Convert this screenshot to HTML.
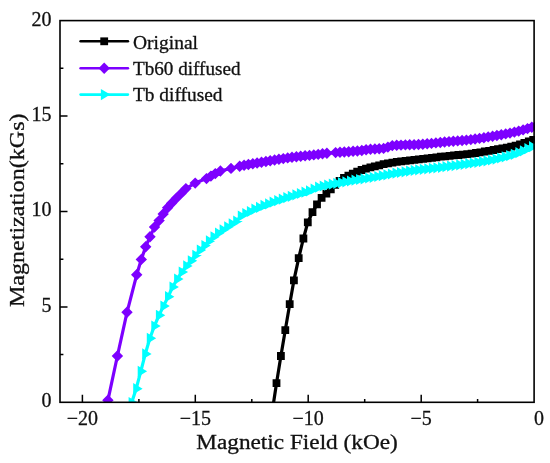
<!DOCTYPE html>
<html lang="en"><head><meta charset="utf-8"><title>Demagnetization curves</title>
<style>html,body{margin:0;padding:0;background:#fff}svg{display:block}text{stroke:#111;stroke-width:.3px}</style></head>
<body>
<svg width="550" height="463" viewBox="0 0 550 463" font-family="'Liberation Serif', 'DejaVu Serif', serif" fill="#111">
<rect width="550" height="463" fill="#fff"/>
<defs><clipPath id="c"><rect x="60.0" y="20.6" width="474.90000000000003" height="382.3"/></clipPath></defs>
<g clip-path="url(#c)">
<polyline fill="none" stroke="#000" stroke-width="3.2" stroke-linejoin="round" points="273.6,402.5 276.5,383.2 280.9,356.0 285.3,330.1 289.7,304.2 293.9,280.4 298.7,258.1 303.4,238.5 307.8,222.3 312.5,212.2 317.0,204.4 321.6,197.9 326.4,193.7 330.8,189.3 335.2,184.8 339.6,180.9 344.0,178.0 348.4,175.7 352.8,173.6 357.2,171.7 361.6,170.0 366.0,168.6 370.4,167.4 374.8,166.3 379.2,165.3 383.6,164.2 388.0,163.3 392.4,162.6 396.8,161.9 401.2,161.3 405.6,160.8 410.0,160.3 414.4,159.8 418.8,159.3 423.2,158.8 427.6,158.3 432.0,157.8 436.4,157.3 440.8,156.7 445.2,156.3 449.6,155.8 454.0,155.4 458.4,155.0 462.8,154.6 467.2,154.1 471.6,153.6 476.0,153.0 480.4,152.3 484.8,151.5 489.2,150.8 493.6,150.0 498.0,149.2 502.4,148.4 506.8,147.6 511.2,146.7 515.6,145.6 520.0,144.4 524.4,142.9 528.8,141.4 533.2,139.9"/>
<path fill="#000" d="M272.6 379.3h7.8v7.8h-7.8zM277.0 352.1h7.8v7.8h-7.8zM281.4 326.2h7.8v7.8h-7.8zM285.8 300.3h7.8v7.8h-7.8zM290.0 276.5h7.8v7.8h-7.8zM294.8 254.2h7.8v7.8h-7.8zM299.5 234.6h7.8v7.8h-7.8zM303.9 218.4h7.8v7.8h-7.8zM308.6 208.3h7.8v7.8h-7.8zM313.1 200.5h7.8v7.8h-7.8zM317.7 194.0h7.8v7.8h-7.8zM322.5 189.8h7.8v7.8h-7.8zM326.9 185.4h7.8v7.8h-7.8zM331.3 180.9h7.8v7.8h-7.8zM335.7 177.0h7.8v7.8h-7.8zM340.1 174.1h7.8v7.8h-7.8zM344.5 171.8h7.8v7.8h-7.8zM348.9 169.7h7.8v7.8h-7.8zM353.3 167.8h7.8v7.8h-7.8zM357.7 166.1h7.8v7.8h-7.8zM362.1 164.7h7.8v7.8h-7.8zM366.5 163.5h7.8v7.8h-7.8zM370.9 162.4h7.8v7.8h-7.8zM375.3 161.4h7.8v7.8h-7.8zM379.7 160.3h7.8v7.8h-7.8zM384.1 159.4h7.8v7.8h-7.8zM388.5 158.7h7.8v7.8h-7.8zM392.9 158.0h7.8v7.8h-7.8zM397.3 157.4h7.8v7.8h-7.8zM401.7 156.9h7.8v7.8h-7.8zM406.1 156.4h7.8v7.8h-7.8zM410.5 155.9h7.8v7.8h-7.8zM414.9 155.4h7.8v7.8h-7.8zM419.3 154.9h7.8v7.8h-7.8zM423.7 154.4h7.8v7.8h-7.8zM428.1 153.9h7.8v7.8h-7.8zM432.5 153.4h7.8v7.8h-7.8zM436.9 152.8h7.8v7.8h-7.8zM441.3 152.4h7.8v7.8h-7.8zM445.7 151.9h7.8v7.8h-7.8zM450.1 151.5h7.8v7.8h-7.8zM454.5 151.1h7.8v7.8h-7.8zM458.9 150.7h7.8v7.8h-7.8zM463.3 150.2h7.8v7.8h-7.8zM467.7 149.7h7.8v7.8h-7.8zM472.1 149.1h7.8v7.8h-7.8zM476.5 148.4h7.8v7.8h-7.8zM480.9 147.6h7.8v7.8h-7.8zM485.3 146.9h7.8v7.8h-7.8zM489.7 146.1h7.8v7.8h-7.8zM494.1 145.3h7.8v7.8h-7.8zM498.5 144.5h7.8v7.8h-7.8zM502.9 143.7h7.8v7.8h-7.8zM507.3 142.8h7.8v7.8h-7.8zM511.7 141.7h7.8v7.8h-7.8zM516.1 140.5h7.8v7.8h-7.8zM520.5 139.0h7.8v7.8h-7.8zM524.9 137.5h7.8v7.8h-7.8zM529.3 136.0h7.8v7.8h-7.8z"/>

<polyline fill="none" stroke="#7d00ff" stroke-width="3.2" stroke-linejoin="round" points="107.9,400.3 117.4,356.0 127.0,312.3 136.7,274.8 141.3,259.4 145.7,246.7 150.0,236.8 154.5,227.1 159.1,220.6 163.2,213.9 167.6,207.7 171.6,203.2 176.3,198.2 181.2,193.4 185.9,188.6 195.2,183.1 206.5,178.6 210.9,176.1 215.3,173.6 220.4,171.0 231.0,168.4 239.7,166.2 244.1,165.3 248.4,164.5 252.8,163.7 257.1,163.0 261.5,162.2 265.9,161.5 270.2,160.7 274.6,160.0 278.9,159.3 283.3,158.6 287.7,157.9 292.0,157.3 296.4,156.7 300.7,156.2 305.1,155.8 309.5,155.4 313.8,154.9 318.2,154.4 322.5,153.8 326.9,153.3 335.6,152.6 340.0,152.3 344.3,152.0 348.7,151.7 353.1,151.3 357.4,151.0 361.8,150.5 366.1,149.8 370.5,149.3 374.9,149.0 379.2,148.7 383.6,148.4 387.9,147.1 392.3,145.6 396.7,145.3 401.0,145.1 405.4,144.9 409.7,144.8 414.1,144.7 418.5,144.5 422.8,144.2 427.2,143.8 431.5,143.4 435.9,142.9 440.3,142.5 444.6,142.0 449.0,141.6 453.3,141.3 457.7,140.9 462.1,140.5 466.4,140.1 470.8,139.6 475.1,139.0 479.5,138.4 483.9,137.7 488.2,136.9 492.6,136.2 496.9,135.5 501.3,134.7 505.7,133.9 510.0,133.1 514.4,132.1 518.7,131.1 523.1,129.9 527.5,128.6 531.8,127.2 536.2,125.8"/>
<path fill="#7d00ff" d="M107.9 394.6l5.7 5.7l-5.7 5.7l-5.7 -5.7zM117.4 350.3l5.7 5.7l-5.7 5.7l-5.7 -5.7zM127.0 306.6l5.7 5.7l-5.7 5.7l-5.7 -5.7zM136.7 269.1l5.7 5.7l-5.7 5.7l-5.7 -5.7zM141.3 253.7l5.7 5.7l-5.7 5.7l-5.7 -5.7zM145.7 241.0l5.7 5.7l-5.7 5.7l-5.7 -5.7zM150.0 231.1l5.7 5.7l-5.7 5.7l-5.7 -5.7zM154.5 221.4l5.7 5.7l-5.7 5.7l-5.7 -5.7zM159.1 214.9l5.7 5.7l-5.7 5.7l-5.7 -5.7zM163.2 208.2l5.7 5.7l-5.7 5.7l-5.7 -5.7zM167.6 202.0l5.7 5.7l-5.7 5.7l-5.7 -5.7zM171.6 197.5l5.7 5.7l-5.7 5.7l-5.7 -5.7zM176.3 192.5l5.7 5.7l-5.7 5.7l-5.7 -5.7zM181.2 187.7l5.7 5.7l-5.7 5.7l-5.7 -5.7zM185.9 182.9l5.7 5.7l-5.7 5.7l-5.7 -5.7zM195.2 177.4l5.7 5.7l-5.7 5.7l-5.7 -5.7zM206.5 172.9l5.7 5.7l-5.7 5.7l-5.7 -5.7zM210.9 170.4l5.7 5.7l-5.7 5.7l-5.7 -5.7zM215.3 167.9l5.7 5.7l-5.7 5.7l-5.7 -5.7zM220.4 165.3l5.7 5.7l-5.7 5.7l-5.7 -5.7zM231.0 162.7l5.7 5.7l-5.7 5.7l-5.7 -5.7zM239.7 160.5l5.7 5.7l-5.7 5.7l-5.7 -5.7zM244.1 159.6l5.7 5.7l-5.7 5.7l-5.7 -5.7zM248.4 158.8l5.7 5.7l-5.7 5.7l-5.7 -5.7zM252.8 158.0l5.7 5.7l-5.7 5.7l-5.7 -5.7zM257.1 157.3l5.7 5.7l-5.7 5.7l-5.7 -5.7zM261.5 156.5l5.7 5.7l-5.7 5.7l-5.7 -5.7zM265.9 155.8l5.7 5.7l-5.7 5.7l-5.7 -5.7zM270.2 155.0l5.7 5.7l-5.7 5.7l-5.7 -5.7zM274.6 154.3l5.7 5.7l-5.7 5.7l-5.7 -5.7zM278.9 153.6l5.7 5.7l-5.7 5.7l-5.7 -5.7zM283.3 152.9l5.7 5.7l-5.7 5.7l-5.7 -5.7zM287.7 152.2l5.7 5.7l-5.7 5.7l-5.7 -5.7zM292.0 151.6l5.7 5.7l-5.7 5.7l-5.7 -5.7zM296.4 151.0l5.7 5.7l-5.7 5.7l-5.7 -5.7zM300.7 150.5l5.7 5.7l-5.7 5.7l-5.7 -5.7zM305.1 150.1l5.7 5.7l-5.7 5.7l-5.7 -5.7zM309.5 149.7l5.7 5.7l-5.7 5.7l-5.7 -5.7zM313.8 149.2l5.7 5.7l-5.7 5.7l-5.7 -5.7zM318.2 148.7l5.7 5.7l-5.7 5.7l-5.7 -5.7zM322.5 148.1l5.7 5.7l-5.7 5.7l-5.7 -5.7zM326.9 147.6l5.7 5.7l-5.7 5.7l-5.7 -5.7zM335.6 146.9l5.7 5.7l-5.7 5.7l-5.7 -5.7zM340.0 146.6l5.7 5.7l-5.7 5.7l-5.7 -5.7zM344.3 146.3l5.7 5.7l-5.7 5.7l-5.7 -5.7zM348.7 146.0l5.7 5.7l-5.7 5.7l-5.7 -5.7zM353.1 145.6l5.7 5.7l-5.7 5.7l-5.7 -5.7zM357.4 145.3l5.7 5.7l-5.7 5.7l-5.7 -5.7zM361.8 144.8l5.7 5.7l-5.7 5.7l-5.7 -5.7zM366.1 144.1l5.7 5.7l-5.7 5.7l-5.7 -5.7zM370.5 143.6l5.7 5.7l-5.7 5.7l-5.7 -5.7zM374.9 143.3l5.7 5.7l-5.7 5.7l-5.7 -5.7zM379.2 143.0l5.7 5.7l-5.7 5.7l-5.7 -5.7zM383.6 142.7l5.7 5.7l-5.7 5.7l-5.7 -5.7zM387.9 141.4l5.7 5.7l-5.7 5.7l-5.7 -5.7zM392.3 139.9l5.7 5.7l-5.7 5.7l-5.7 -5.7zM396.7 139.6l5.7 5.7l-5.7 5.7l-5.7 -5.7zM401.0 139.4l5.7 5.7l-5.7 5.7l-5.7 -5.7zM405.4 139.2l5.7 5.7l-5.7 5.7l-5.7 -5.7zM409.7 139.1l5.7 5.7l-5.7 5.7l-5.7 -5.7zM414.1 139.0l5.7 5.7l-5.7 5.7l-5.7 -5.7zM418.5 138.8l5.7 5.7l-5.7 5.7l-5.7 -5.7zM422.8 138.5l5.7 5.7l-5.7 5.7l-5.7 -5.7zM427.2 138.1l5.7 5.7l-5.7 5.7l-5.7 -5.7zM431.5 137.7l5.7 5.7l-5.7 5.7l-5.7 -5.7zM435.9 137.2l5.7 5.7l-5.7 5.7l-5.7 -5.7zM440.3 136.8l5.7 5.7l-5.7 5.7l-5.7 -5.7zM444.6 136.3l5.7 5.7l-5.7 5.7l-5.7 -5.7zM449.0 135.9l5.7 5.7l-5.7 5.7l-5.7 -5.7zM453.3 135.6l5.7 5.7l-5.7 5.7l-5.7 -5.7zM457.7 135.2l5.7 5.7l-5.7 5.7l-5.7 -5.7zM462.1 134.8l5.7 5.7l-5.7 5.7l-5.7 -5.7zM466.4 134.4l5.7 5.7l-5.7 5.7l-5.7 -5.7zM470.8 133.9l5.7 5.7l-5.7 5.7l-5.7 -5.7zM475.1 133.3l5.7 5.7l-5.7 5.7l-5.7 -5.7zM479.5 132.7l5.7 5.7l-5.7 5.7l-5.7 -5.7zM483.9 132.0l5.7 5.7l-5.7 5.7l-5.7 -5.7zM488.2 131.2l5.7 5.7l-5.7 5.7l-5.7 -5.7zM492.6 130.5l5.7 5.7l-5.7 5.7l-5.7 -5.7zM496.9 129.8l5.7 5.7l-5.7 5.7l-5.7 -5.7zM501.3 129.0l5.7 5.7l-5.7 5.7l-5.7 -5.7zM505.7 128.2l5.7 5.7l-5.7 5.7l-5.7 -5.7zM510.0 127.4l5.7 5.7l-5.7 5.7l-5.7 -5.7zM514.4 126.4l5.7 5.7l-5.7 5.7l-5.7 -5.7zM518.7 125.4l5.7 5.7l-5.7 5.7l-5.7 -5.7zM523.1 124.2l5.7 5.7l-5.7 5.7l-5.7 -5.7zM527.5 122.9l5.7 5.7l-5.7 5.7l-5.7 -5.7zM531.8 121.5l5.7 5.7l-5.7 5.7l-5.7 -5.7zM536.2 120.1l5.7 5.7l-5.7 5.7l-5.7 -5.7z"/>

<polyline fill="none" stroke="#00ffff" stroke-width="3.2" stroke-linejoin="round" points="131.7,402.5 136.2,388.7 140.8,371.3 145.3,353.9 149.9,338.3 154.4,326.0 159.0,315.3 163.5,306.1 168.1,296.7 172.6,287.0 177.2,279.1 181.8,272.0 186.3,265.9 190.8,260.8 195.4,255.3 199.9,250.1 204.5,245.6 209.0,240.9 213.6,236.8 218.1,233.2 222.7,229.9 227.2,226.9 231.8,223.9 236.3,221.2 240.9,216.1 245.4,213.5 250.0,211.5 254.5,209.1 259.1,207.4 263.6,205.4 268.2,203.9 272.8,202.2 277.3,200.6 281.9,199.2 286.4,197.6 290.9,196.3 295.5,194.8 300.0,193.5 304.6,192.2 309.1,190.9 313.7,189.0 318.2,187.2 322.8,186.0 327.4,185.1 331.9,184.2 336.4,183.4 341.0,182.6 345.5,181.8 350.1,181.0 354.6,180.2 359.2,179.5 363.8,178.8 368.3,178.0 372.8,177.3 377.4,176.5 381.9,175.7 386.5,174.8 391.0,174.0 395.6,173.2 400.1,172.5 404.7,171.8 409.2,171.1 413.8,170.4 418.3,169.8 422.9,169.3 427.4,168.8 432.0,168.3 436.5,167.8 441.1,167.3 445.6,166.7 450.2,166.1 454.8,165.6 459.3,164.9 463.8,164.3 468.4,163.7 472.9,163.0 477.5,162.3 482.0,161.6 486.6,160.9 491.1,160.0 495.7,159.1 500.2,158.0 504.8,156.9 509.3,155.6 513.9,154.3 518.5,152.7 523.0,150.8 527.5,148.7 532.1,146.7"/>
<path fill="#00ffff" d="M128.6 396.9l9.4 5.6l-9.4 5.6zM133.2 383.1l9.4 5.6l-9.4 5.6zM137.7 365.7l9.4 5.6l-9.4 5.6zM142.2 348.3l9.4 5.6l-9.4 5.6zM146.8 332.7l9.4 5.6l-9.4 5.6zM151.3 320.4l9.4 5.6l-9.4 5.6zM155.9 309.7l9.4 5.6l-9.4 5.6zM160.4 300.5l9.4 5.6l-9.4 5.6zM165.0 291.1l9.4 5.6l-9.4 5.6zM169.5 281.4l9.4 5.6l-9.4 5.6zM174.1 273.5l9.4 5.6l-9.4 5.6zM178.7 266.4l9.4 5.6l-9.4 5.6zM183.2 260.3l9.4 5.6l-9.4 5.6zM187.8 255.2l9.4 5.6l-9.4 5.6zM192.3 249.7l9.4 5.6l-9.4 5.6zM196.8 244.5l9.4 5.6l-9.4 5.6zM201.4 240.0l9.4 5.6l-9.4 5.6zM205.9 235.3l9.4 5.6l-9.4 5.6zM210.5 231.2l9.4 5.6l-9.4 5.6zM215.0 227.6l9.4 5.6l-9.4 5.6zM219.6 224.3l9.4 5.6l-9.4 5.6zM224.2 221.3l9.4 5.6l-9.4 5.6zM228.7 218.3l9.4 5.6l-9.4 5.6zM233.2 215.6l9.4 5.6l-9.4 5.6zM237.8 210.5l9.4 5.6l-9.4 5.6zM242.3 207.9l9.4 5.6l-9.4 5.6zM246.9 205.9l9.4 5.6l-9.4 5.6zM251.4 203.5l9.4 5.6l-9.4 5.6zM256.0 201.8l9.4 5.6l-9.4 5.6zM260.5 199.8l9.4 5.6l-9.4 5.6zM265.1 198.3l9.4 5.6l-9.4 5.6zM269.6 196.6l9.4 5.6l-9.4 5.6zM274.2 195.0l9.4 5.6l-9.4 5.6zM278.8 193.6l9.4 5.6l-9.4 5.6zM283.3 192.0l9.4 5.6l-9.4 5.6zM287.8 190.7l9.4 5.6l-9.4 5.6zM292.4 189.2l9.4 5.6l-9.4 5.6zM296.9 187.9l9.4 5.6l-9.4 5.6zM301.5 186.6l9.4 5.6l-9.4 5.6zM306.0 185.3l9.4 5.6l-9.4 5.6zM310.6 183.4l9.4 5.6l-9.4 5.6zM315.1 181.6l9.4 5.6l-9.4 5.6zM319.7 180.4l9.4 5.6l-9.4 5.6zM324.2 179.5l9.4 5.6l-9.4 5.6zM328.8 178.6l9.4 5.6l-9.4 5.6zM333.3 177.8l9.4 5.6l-9.4 5.6zM337.9 177.0l9.4 5.6l-9.4 5.6zM342.4 176.2l9.4 5.6l-9.4 5.6zM347.0 175.4l9.4 5.6l-9.4 5.6zM351.5 174.6l9.4 5.6l-9.4 5.6zM356.1 173.9l9.4 5.6l-9.4 5.6zM360.6 173.2l9.4 5.6l-9.4 5.6zM365.2 172.4l9.4 5.6l-9.4 5.6zM369.7 171.7l9.4 5.6l-9.4 5.6zM374.3 170.9l9.4 5.6l-9.4 5.6zM378.8 170.1l9.4 5.6l-9.4 5.6zM383.4 169.2l9.4 5.6l-9.4 5.6zM387.9 168.4l9.4 5.6l-9.4 5.6zM392.5 167.6l9.4 5.6l-9.4 5.6zM397.0 166.9l9.4 5.6l-9.4 5.6zM401.6 166.2l9.4 5.6l-9.4 5.6zM406.1 165.5l9.4 5.6l-9.4 5.6zM410.7 164.8l9.4 5.6l-9.4 5.6zM415.2 164.2l9.4 5.6l-9.4 5.6zM419.8 163.7l9.4 5.6l-9.4 5.6zM424.3 163.2l9.4 5.6l-9.4 5.6zM428.9 162.7l9.4 5.6l-9.4 5.6zM433.4 162.2l9.4 5.6l-9.4 5.6zM438.0 161.7l9.4 5.6l-9.4 5.6zM442.5 161.1l9.4 5.6l-9.4 5.6zM447.1 160.5l9.4 5.6l-9.4 5.6zM451.6 160.0l9.4 5.6l-9.4 5.6zM456.2 159.3l9.4 5.6l-9.4 5.6zM460.7 158.7l9.4 5.6l-9.4 5.6zM465.3 158.1l9.4 5.6l-9.4 5.6zM469.8 157.4l9.4 5.6l-9.4 5.6zM474.4 156.7l9.4 5.6l-9.4 5.6zM478.9 156.0l9.4 5.6l-9.4 5.6zM483.5 155.3l9.4 5.6l-9.4 5.6zM488.0 154.4l9.4 5.6l-9.4 5.6zM492.6 153.5l9.4 5.6l-9.4 5.6zM497.1 152.4l9.4 5.6l-9.4 5.6zM501.7 151.3l9.4 5.6l-9.4 5.6zM506.2 150.0l9.4 5.6l-9.4 5.6zM510.8 148.7l9.4 5.6l-9.4 5.6zM515.4 147.1l9.4 5.6l-9.4 5.6zM519.9 145.2l9.4 5.6l-9.4 5.6zM524.4 143.1l9.4 5.6l-9.4 5.6zM529.0 141.1l9.4 5.6l-9.4 5.6z"/>

</g>
<rect x="60.0" y="20.6" width="474.1" height="381.7" fill="none" stroke="#000" stroke-width="1.6"/>
<path d="M82.4 402.3v-7.5M138.9 402.3v-3.4M195.3 402.3v-7.5M251.8 402.3v-3.4M308.2 402.3v-7.5M364.7 402.3v-3.4M421.2 402.3v-7.5M477.6 402.3v-3.4M60.0 354.6h3.4M60.0 306.9h7.5M60.0 259.2h3.4M60.0 211.5h7.5M60.0 163.7h3.4M60.0 116.0h7.5M60.0 68.3h3.4" stroke="#000" stroke-width="1.5" fill="none"/>
<g font-size="20px">
<text x="51.5" y="407.2" text-anchor="end">0</text>
<text x="51.5" y="311.8" text-anchor="end">5</text>
<text x="51.5" y="216.4" text-anchor="end">10</text>
<text x="51.5" y="120.9" text-anchor="end">15</text>
<text x="51.5" y="25.5" text-anchor="end">20</text>
<text x="82.4" y="425.2" text-anchor="middle">−20</text>
<text x="195.3" y="425.2" text-anchor="middle">−15</text>
<text x="308.2" y="425.2" text-anchor="middle">−10</text>
<text x="421.2" y="425.2" text-anchor="middle">−5</text>
<text x="539.0" y="425.2" text-anchor="middle">0</text>
</g>
<text x="196.3" y="448.5" font-size="20.5px" textLength="201.5" lengthAdjust="spacingAndGlyphs">Magnetic Field (kOe)</text>
<text transform="translate(23.8 307) rotate(-90)" font-size="20.5px" textLength="193.5" lengthAdjust="spacingAndGlyphs">Magnetization(kGs)</text>
<path d="M80.6 41.3H127.9" stroke="#000" stroke-width="2.6" stroke-linecap="round" fill="none"/>
<path fill="#000" d="M100.3 37.4h7.8v7.8h-7.8z"/>
<text x="133" y="48.6" font-size="18.5px" textLength="65" lengthAdjust="spacingAndGlyphs">Original</text>
<path d="M80.6 68.2H127.9" stroke="#7d00ff" stroke-width="2.6" stroke-linecap="round" fill="none"/>
<path fill="#7d00ff" d="M104.2 62.5l5.7 5.7l-5.7 5.7l-5.7 -5.7z"/>
<text x="133" y="74.6" font-size="18.5px" textLength="107.5" lengthAdjust="spacingAndGlyphs">Tb60 diffused</text>
<path d="M80.6 94.6H127.9" stroke="#00ffff" stroke-width="2.6" stroke-linecap="round" fill="none"/>
<path fill="#00ffff" d="M100.9 89.0l9.4 5.6l-9.4 5.6z"/>
<text x="133" y="100.8" font-size="18.5px" textLength="89.5" lengthAdjust="spacingAndGlyphs">Tb diffused</text>
</svg>
</body></html>
